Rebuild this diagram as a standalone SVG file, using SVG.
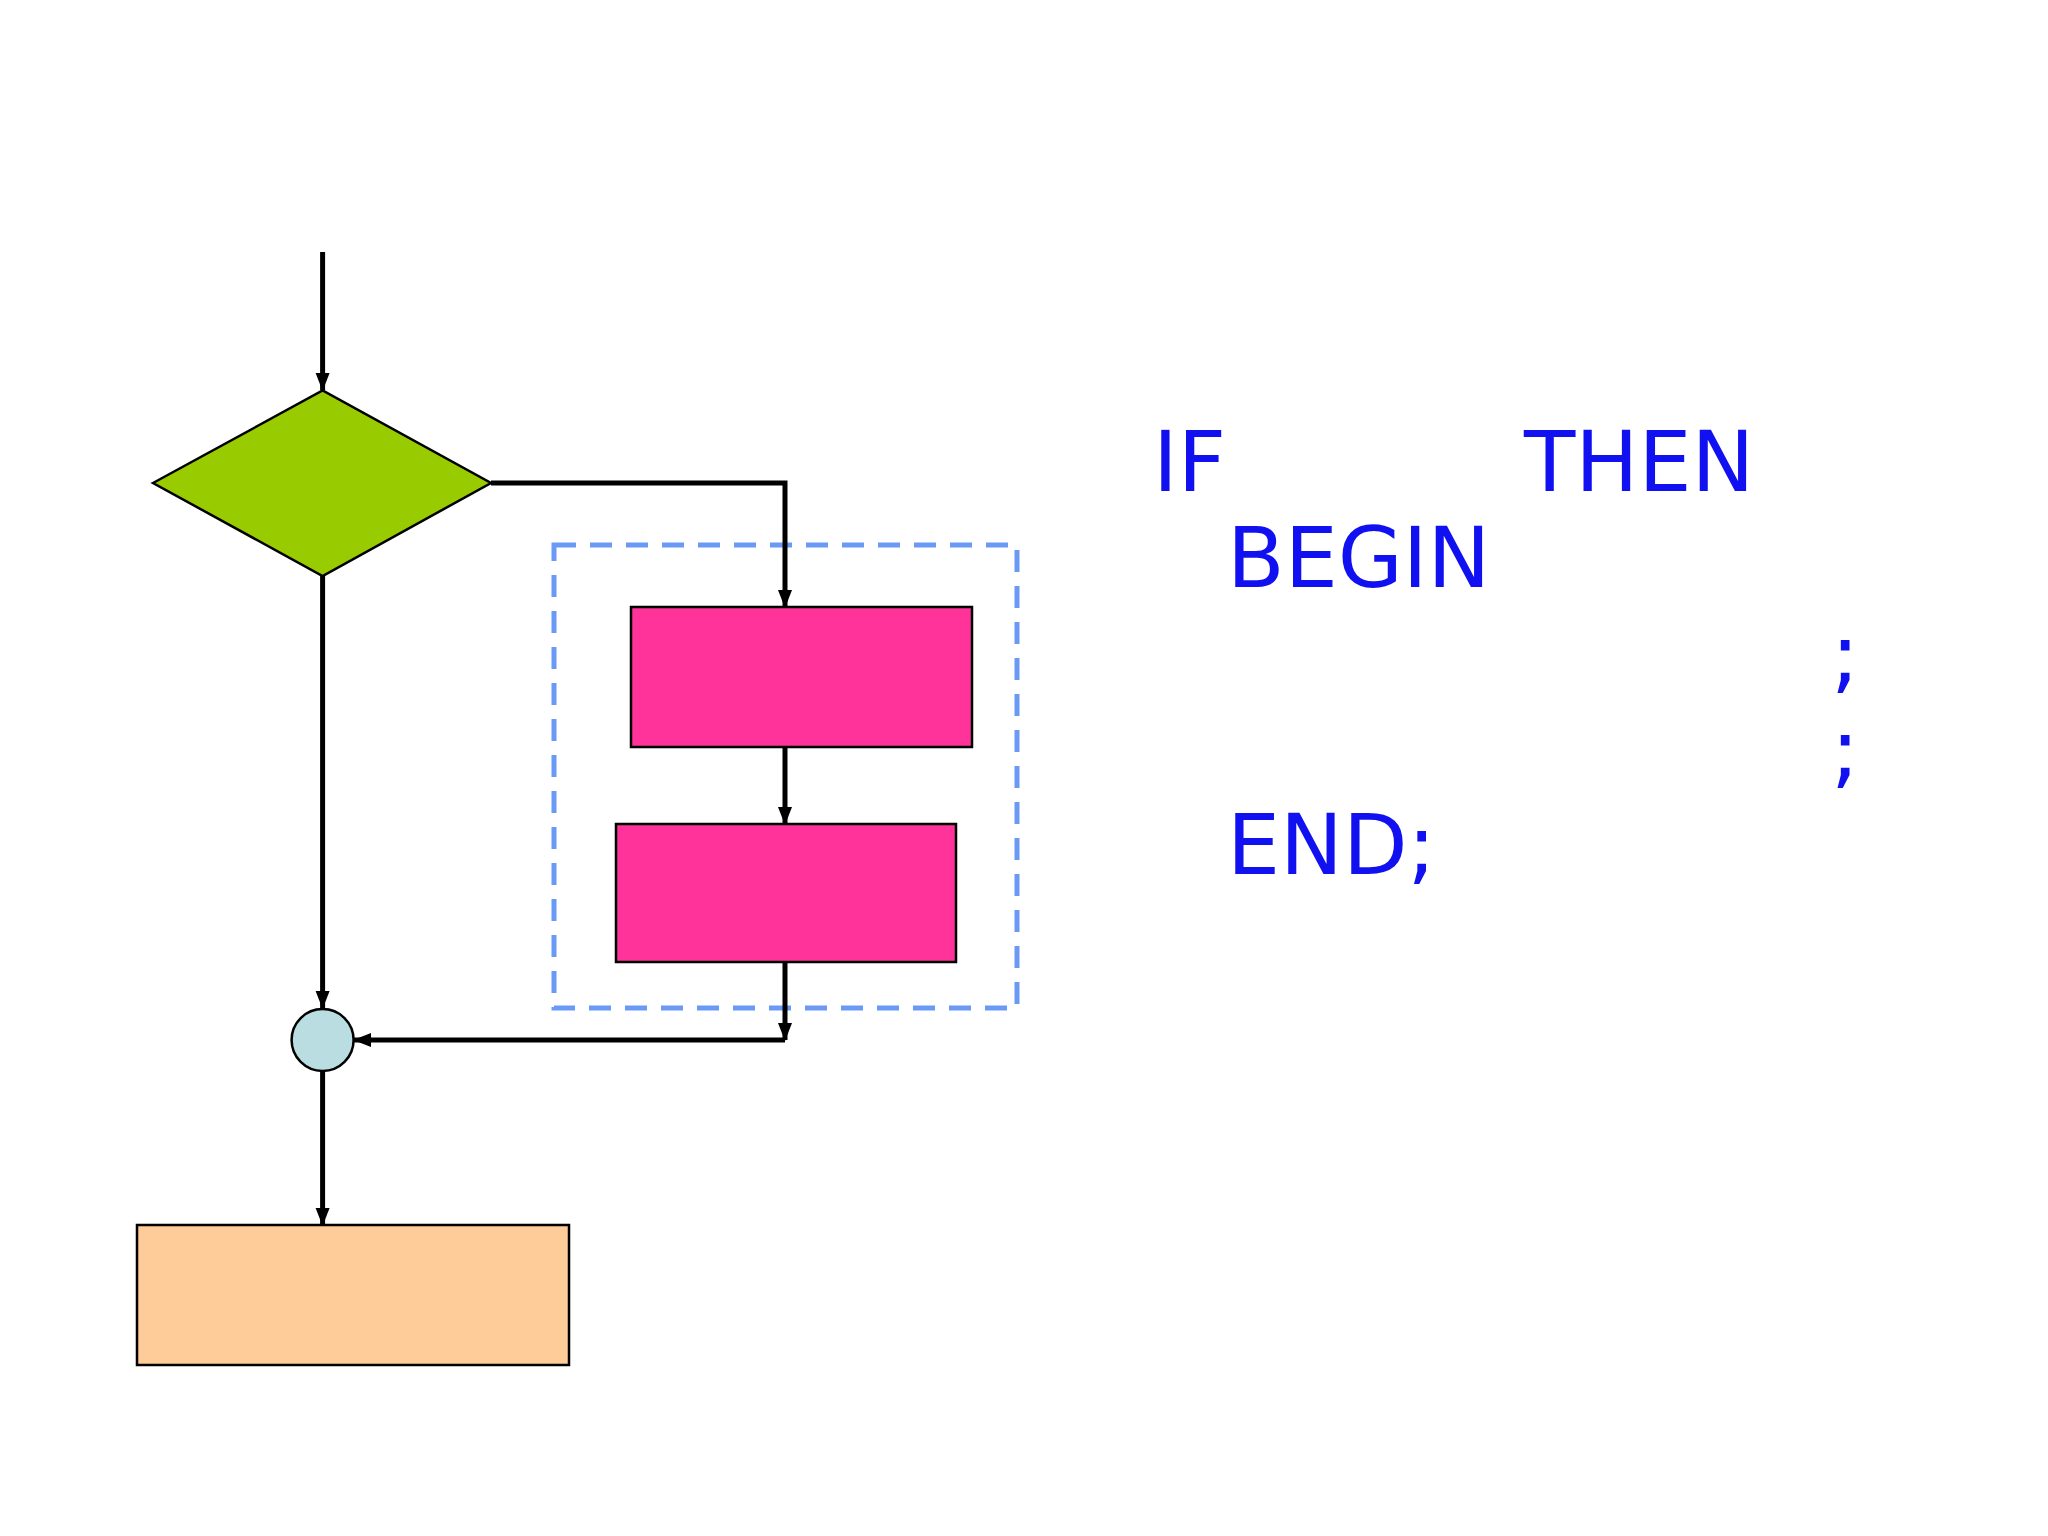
<svg xmlns="http://www.w3.org/2000/svg" width="2048" height="1536" viewBox="0 0 2048 1536">
<style>
.c{stroke:#000;stroke-width:5;fill:none}
.n{stroke:#000;stroke-width:2.5}
.t{font-family:"DejaVu Sans",Verdana,sans-serif;font-size:84px;fill:#1010f0}
</style>
<defs><marker id="a" markerWidth="8" markerHeight="8" refX="7" refY="4" orient="auto" markerUnits="userSpaceOnUse" viewBox="0 0 8 8"><path d="M0,0L8,4L0,8Z" fill="#000"/></marker>
<marker id="b" markerWidth="18" markerHeight="18" refX="17" refY="9" orient="auto" markerUnits="userSpaceOnUse" viewBox="0 0 18 18"><path d="M0,2L18,9L0,16Z" fill="#000"/></marker></defs>
<rect width="2048" height="1536" fill="#fff"/>
<rect id="loopbox" x="554" y="545" width="463" height="463" fill="none" stroke="#6a9af5" stroke-width="5" stroke-dasharray="22,14"/>
<g id="connectors">
<line class="c" x1="322.6" y1="252" x2="322.6" y2="390" marker-end="url(#b)"/>
<polyline class="c" points="491,483 785,483 785,607" marker-end="url(#b)"/>
<line class="c" x1="785" y1="747" x2="785" y2="824" marker-end="url(#b)"/>
<line class="c" x1="785" y1="962" x2="785" y2="1040" marker-end="url(#b)"/>
<line class="c" x1="785" y1="1040" x2="354" y2="1040" marker-end="url(#b)"/>
<line class="c" x1="322.6" y1="576" x2="322.6" y2="1008" marker-end="url(#b)"/>
<line class="c" x1="322.6" y1="1071" x2="322.6" y2="1225" marker-end="url(#b)"/>
</g>
<g id="decision"><polygon class="n" points="153,483 322.6,390.5 491,483 322.6,576" fill="#99cc00"/></g>
<g id="step1"><rect class="n" x="631" y="607" width="341" height="140" fill="#ff3399"/></g>
<g id="step2"><rect class="n" x="616" y="824" width="340" height="138" fill="#ff3399"/></g>
<g id="join"><circle class="n" cx="322.6" cy="1040" r="31" fill="#b9dde0"/></g>
<g id="next"><rect class="n" x="137" y="1225" width="432" height="140" fill="#fdcc99"/></g>
<g id="code">
<text class="t" x="1153" y="491">IF</text>
<text class="t" x="1524" y="491">THEN</text>
<text class="t" x="1227" y="587">BEGIN</text>
<text class="t" x="1831" y="683">;</text>
<text class="t" x="1831" y="778">;</text>
<text class="t" x="1227" y="874">END;</text>
</g>
</svg>
